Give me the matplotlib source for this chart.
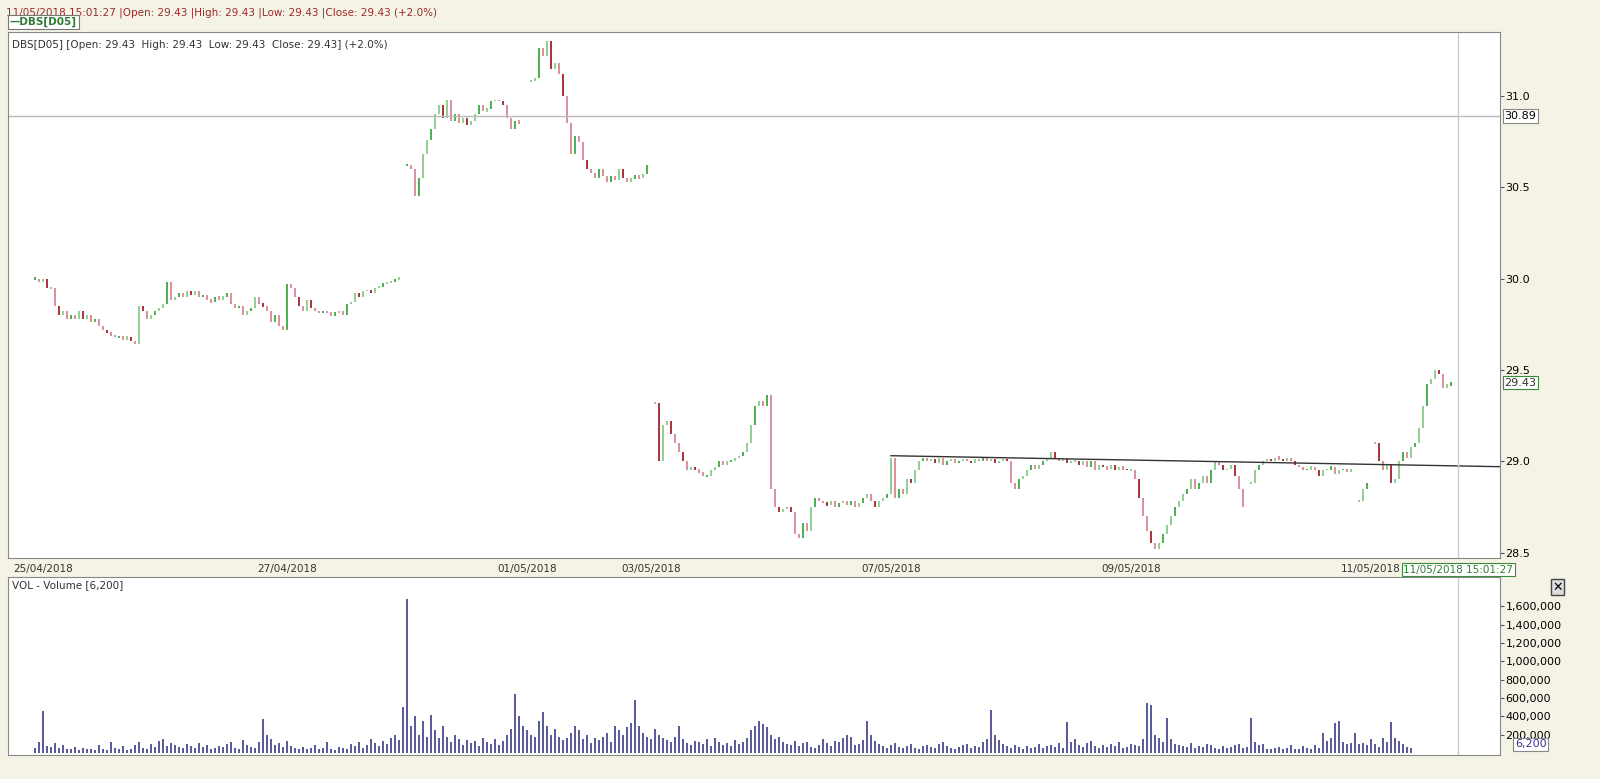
import numpy as np
import matplotlib.pyplot as plt
from matplotlib.ticker import FuncFormatter

nan = np.nan

# closes of 4-pixel bars, one list per stretch of the chart
seg_a = [30.0, 29.98, 30.0, 29.95, 29.95, 29.85, 29.8, 29.82, 29.78, 29.8, 29.78, 29.82, 29.78, 29.8, 29.76, 29.78,
         29.74, 29.72, 29.7, 29.69, 29.68, 29.68, 29.67, 29.68, 29.66, 29.64, 29.85, 29.82, 29.78, 29.8, 29.82, 29.84,
         29.86, 29.98, 29.88, 29.9, 29.92, 29.9, 29.93, 29.91, 29.93, 29.9, 29.91, 29.88, 29.87, 29.9, 29.89, 29.9,
         29.92, 29.86, 29.84, 29.85, 29.8, 29.82, 29.84, 29.9, 29.86, 29.85, 29.82, 29.76, 29.8, 29.74, 29.72, 29.97,
         29.95, 29.9, 29.85, 29.82, 29.88, 29.84, 29.82, 29.81, 29.82, 29.81, 29.8, 29.81, 29.82, 29.8, 29.86, 29.87,
         29.92, 29.9, 29.93, 29.94, 29.92, 29.95, 29.96, 29.97, 29.98, 29.98, 30.0, 30.0]
seg_b = [nan, 30.62, 30.6, 30.45, 30.55, 30.68, 30.76, 30.82, 30.9, 30.95, 30.88, 30.98, 30.86, 30.9, 30.85, 30.88,
         30.84, 30.86, 30.9, 30.95, 30.92, 30.93, 30.97, 30.98, 30.97, 30.95, 30.88, 30.82, 30.86, 30.85, nan, nan,
         31.08, 31.1, 31.26, 31.22, 31.3, 31.15, 31.18, 31.12, 31.0, 30.85, 30.68, 30.78, 30.75, 30.65, 30.6, 30.58,
         30.55, 30.6, 30.56, 30.53, 30.56, 30.54, 30.6, 30.55, 30.53, 30.55, 30.56, 30.55, 30.57, 30.62]
seg_c = [nan, 29.32, 29.0, 29.2, 29.22, 29.15, 29.1, 29.05, 29.0, 28.95, 28.97, 28.95, 28.94, 28.92, 28.92, 28.95,
         28.97, 29.0, 28.98, 29.0, 29.0, 29.02, 29.03, 29.05, 29.1, 29.2, 29.3, 29.33, 29.3, 29.36, 28.85, 28.75,
         28.72, 28.74, 28.75, 28.72, 28.6, 28.58, 28.66, 28.62, 28.75, 28.8, 28.78, 28.77, 28.76, 28.78, 28.75, 28.77,
         28.78, 28.76, 28.78, 28.75, 28.77, 28.8, 28.82, 28.78, 28.75, 28.78, 28.8, 28.82]
seg_d = [29.02, 28.8, 28.85, 28.82, 28.9, 28.88, 28.95, 29.0, 29.02, 29.0, 29.01, 28.99, 29.02, 28.98, 29.0, 29.01,
         28.99, 29.0, 29.01, 29.0, 28.99, 29.01, 29.0, 29.02, 29.0, 29.01, 28.99, 29.0, 29.01, 29.0, 28.88, 28.85,
         28.9, 28.92, 28.95, 28.98, 28.96, 28.98, 29.0, 29.02, 29.05, 29.02, 29.0, 29.01, 28.99, 29.0, 29.0, 28.98,
         29.0, 28.97, 29.0, 28.95, 28.98, 28.97, 28.96, 28.98, 28.95, 28.97, 28.96, 28.95]
seg_e = [28.95, 28.9, 28.8, 28.7, 28.62, 28.55, 28.52, 28.55, 28.6, 28.65, 28.7, 28.75, 28.78, 28.82, 28.85, 28.9,
         28.85, 28.88, 28.92, 28.88, 28.95, 29.0, 28.98, 28.95, 28.96, 28.98, 28.92, 28.85, 28.75, nan, 28.88, 28.95,
         28.98, 29.0, 29.01, 29.0, 29.02, 29.01, 29.0, 29.02, 29.0, 28.98, 28.97, 28.95, 28.96, 28.97, 28.95, 28.92,
         28.95, 28.96, 28.97, 28.93, 28.95, 28.96, 28.94, 28.96, nan, 28.78, 28.85, 28.88, nan]
seg_f = [29.1, 29.0, 28.95, 28.98, 28.88, 28.9, 29.0, 29.05, 29.02, 29.08, 29.1, 29.18, 29.3, 29.42, 29.45, 29.5,
         29.48, 29.4, 29.42, 29.43]
closes = np.array(seg_a + seg_b + seg_c + seg_d + seg_e + seg_f)

volume = [60, 120, 460, 80, 70, 110, 60, 90, 50, 40, 70, 30, 60, 40, 50, 30, 90, 40, 30, 120,
          60, 40, 80, 30, 50, 90, 120, 60, 40, 100, 70, 130, 150, 80, 110, 90, 70, 60, 100, 80,
          60, 110, 70, 90, 40, 60, 80, 70, 100, 120, 60, 40, 140, 90, 70, 60, 120, 370, 200, 150,
          90, 110, 70, 130, 80, 60, 40, 70, 50, 60, 90, 40, 60, 120, 50, 30, 70, 60, 40, 100,
          80, 120, 60, 90, 150, 110, 80, 130, 100, 160, 200, 140, 500, 1680, 300, 400, 200, 350, 180, 420,
          250, 160, 300, 180, 120, 200, 150, 90, 140, 110, 130, 80, 160, 120, 100, 150, 90, 130, 200, 260,
          650, 400, 300, 250, 200, 180, 350, 450, 300, 200, 260, 180, 140, 160, 220, 300, 250, 150, 200, 110,
          160, 140, 180, 220, 120, 300, 250, 200, 280, 330, 580, 300, 220, 180, 150, 260, 200, 160, 140, 120,
          180, 300, 150, 110, 90, 130, 120, 100, 150, 80, 160, 120, 90, 110, 80, 140, 100, 120, 160, 250,
          300, 350, 320, 280, 200, 150, 180, 120, 100, 90, 130, 80, 110, 120, 70, 60, 90, 150, 110, 80,
          130, 120, 160, 200, 180, 90, 100, 140, 350, 200, 130, 100, 80, 60, 90, 110, 70, 60, 80, 100,
          60, 50, 80, 90, 70, 60, 100, 120, 80, 60, 50, 70, 90, 100, 60, 80, 70, 120, 150, 470,
          200, 140, 100, 80, 60, 90, 70, 50, 80, 60, 70, 100, 60, 80, 90, 70, 110, 60, 340, 120,
          150, 90, 70, 110, 130, 80, 60, 90, 70, 100, 80, 120, 60, 70, 100, 90, 80, 150, 550, 520,
          200, 160, 120, 380, 150, 100, 90, 80, 70, 110, 60, 80, 70, 100, 90, 60, 50, 80, 60, 70,
          90, 100, 60, 70, 380, 120, 90, 100, 50, 40, 60, 70, 40, 60, 90, 40, 50, 80, 60, 40,
          90, 60, 220, 130, 170, 330, 350, 120, 100, 110, 220, 100, 110, 90, 150, 100, 70, 160, 120, 340,
          170, 130, 100, 70, 60]
volume = np.array(volume) * 1000

date_labels = ['25/04/2018', '27/04/2018', '01/05/2018', '03/05/2018', '07/05/2018', '09/05/2018', '11/05/2018']
date_pos = [2, 63, 123, 154, 214, 274, 334]

bg = '#f5f3e6'
fig = plt.figure(figsize=(16, 7.79), dpi=100, facecolor=bg)
ax = fig.add_axes([8/1600, 221/779, 1492/1600, 526/779])
axv = fig.add_axes([8/1600, 24/779, 1492/1600, 178/779])
for a in (ax, axv):
    a.set_facecolor('white')
    for s in a.spines.values():
        s.set_color('#888888')
        s.set_linewidth(0.8)
    a.yaxis.tick_right()
    a.tick_params(axis='y', labelsize=8, length=3, color='#555555', pad=1)
    a.set_xlim(-6.75, 366.25)
    a.set_xticks([])

# price bars: from previous close to close
prev = np.concatenate([[closes[0]], closes[:-1]])
prev = np.where(np.isnan(prev), closes, prev)
for i, (o, c) in enumerate(zip(prev, closes)):
    if np.isnan(c):
        continue
    lo, hi = min(o, c), max(o, c)
    if hi - lo < 0.01:
        lo, hi = lo - 0.006, hi + 0.006
    col = ('#4caf50' if i % 3 == 0 else '#8fd08f') if c >= o else ('#a8323e' if i % 3 == 0 else '#d9909a')
    ax.vlines(i, lo, hi, color=col, lw=1.4)

ax.set_ylim(28.47, 31.35)
ax.set_yticks([28.5, 29.0, 29.5, 30.0, 30.5, 31.0])
ax.yaxis.set_major_formatter(FuncFormatter(lambda v, p: f'{v:.1f}'))

# horizontal level, trend line and cursor
ax.axhline(30.89, color='#bbbbbb', lw=1)
ax.plot([214, 366.25], [29.03, 28.97], color='#333333', lw=1, clip_on=False)
ax.axvline(355.75, color='#cccccc', lw=1)
axv.axvline(355.75, color='#cccccc', lw=1)

box = dict(boxstyle='square,pad=0.15', fc='white', lw=0.8)
ax.text(1.003, (30.89 - 28.47) / (31.35 - 28.47), '30.89', transform=ax.transAxes, fontsize=8,
        va='center', ha='left', bbox=dict(box, ec='#888888'))
ax.text(1.003, (29.43 - 28.47) / (31.35 - 28.47), '29.43', transform=ax.transAxes, fontsize=8,
        va='center', ha='left', color='#333333', bbox=dict(box, ec='#3a8a3a'))

for lbl, p in zip(date_labels, date_pos):
    ax.annotate(lbl, (p, 0), xycoords=('data', 'axes fraction'), xytext=(0, -10),
                textcoords='offset points', ha='center', fontsize=7.5, color='#333333')
ax.text(355.75, -0.013, '11/05/2018 15:01:27', transform=ax.get_xaxis_transform(), fontsize=7.5,
        ha='center', va='top', color='#2e7d32', bbox=dict(box, ec='#3a8a3a'))

ax.text(0.003, 0.985, 'DBS[D05] [Open: 29.43  High: 29.43  Low: 29.43  Close: 29.43] (+2.0%)',
        transform=ax.transAxes, fontsize=7.5, va='top', color='#333333')
fig.text(0.004, 0.99, '11/05/2018 15:01:27 |Open: 29.43 |High: 29.43 |Low: 29.43 |Close: 29.43 (+2.0%)',
         fontsize=7.5, va='top', color='#9b2a2a')
fig.text(0.006, 0.9715, '\u2014DBS[D05]', fontsize=7.5, va='center', color='#2e7d32', fontweight='bold',
         bbox=dict(boxstyle='square,pad=0.2', fc='white', ec='#777777', lw=0.8))

# volume
axv.bar(np.arange(len(volume)), volume, width=0.4, color='#5c5c9a')
axv.set_ylim(-20000, 1.92e6)
axv.set_yticks(np.arange(200000, 1600001, 200000))
axv.yaxis.set_major_formatter(FuncFormatter(lambda v, p: f'{v:,.0f}'))
axv.text(0.003, 0.98, 'VOL - Volume [6,200]', transform=axv.transAxes, fontsize=7.5, va='top', color='#333333')
axv.text(1.01, 0.06, '6,200', transform=axv.transAxes, fontsize=8, va='center', color='#333399',
         bbox=dict(box, ec='#888888'))
fig.text(0.9735, 0.2465, '\u2715', fontsize=9, ha='center', va='center',
         bbox=dict(boxstyle='square,pad=0.1', fc='#dddddd', ec='#444444'))

fig.savefig('out.png', dpi=100, facecolor=bg)
